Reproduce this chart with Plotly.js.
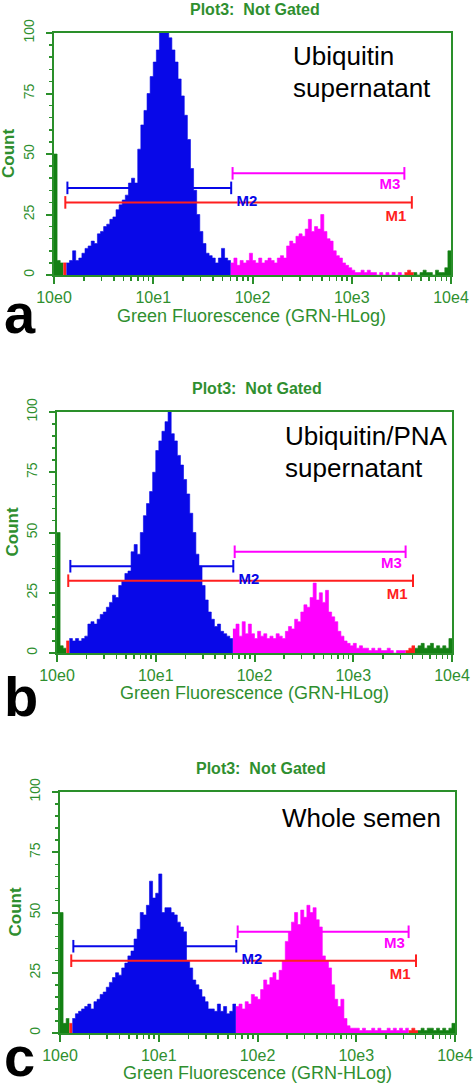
<!DOCTYPE html>
<html>
<head>
<meta charset="utf-8">
<script src="https://cdn.plot.ly/plotly-3.0.1.min.js"></script>
<style>html,body{margin:0;padding:0;background:#fff;}#chart{width:474px;height:1090px;}</style>
</head>
<body>
<div id="chart"></div>
<script>
// ---------------- DATA ----------------
// Histogram channels: 32 log-spaced channels per decade over 10^0 .. 10^4
const channelsPerDecade = 32;
const channelCount = 128;

// Counts per channel, panel a (Ubiquitin supernatant)
const countsA = [
  50, 6, 5, 5,
  5, 6, 10, 6, 7, 9, 11, 12, 14, 13, 17, 18, 20, 21, 23, 24, 27, 29, 31, 33, 38, 40, 38, 52, 62, 68,
  75, 82, 88, 93, 100, 100, 100, 98, 93, 88, 81, 74, 66, 56, 44, 35, 25, 18, 13, 9, 8, 7, 5, 7, 11, 7, 6,
  5, 7, 4, 6, 5, 6, 9, 6, 5, 7, 5, 6, 7, 6, 5, 7, 8, 7, 12, 14, 13, 16, 17, 16, 19, 23, 18, 20, 19, 25,
  18, 15, 14, 10, 8, 7, 5, 4, 3, 2, 1, 1, 2, 1, 2, 1, 1, 0, 1, 0, 1, 0, 1, 0, 1, 0,
  1, 2, 1,
  1, 0, 1, 2, 1, 1, 0, 2, 1, 1, 3, 10
];
// Panel b (Ubiquitin/PNA supernatant)
const countsB = [
  50, 3, 2, 5,
  6, 5, 6, 5, 6, 7, 12, 13, 12, 14, 16, 17, 19, 21, 24, 23, 28, 30, 33, 34, 42, 45, 41, 50, 57, 62,
  67, 75, 84, 88, 92, 96, 100, 91, 88, 82, 78, 72, 66, 58, 50, 41, 36, 28, 22, 17, 14, 11, 12, 9, 8, 7, 6,
  10, 12, 7, 13, 8, 12, 8, 6, 9, 7, 8, 6, 7, 6, 8, 7, 6, 9, 11, 10, 14, 13, 17, 20, 19, 23, 29, 22, 25, 21,
  26, 17, 15, 13, 9, 7, 5, 4, 3, 4, 2, 3, 2, 2, 1, 2, 1, 2, 1, 1, 2, 1, 0, 1, 1, 1,
  1, 2, 3,
  2, 3, 4, 2, 3, 4, 2, 3, 2, 3, 2, 6
];
// Panel c (Whole semen)
const countsC = [
  50, 4, 6, 4,
  6, 8, 9, 10, 11, 12, 10, 13, 14, 16, 17, 19, 21, 23, 25, 24, 27, 29, 32, 34, 39, 43, 50, 49, 53, 63,
  56, 58, 66, 50, 52, 52, 50, 49, 46, 44, 42, 30, 27, 22, 20, 18, 15, 13, 10, 10, 9, 12, 9, 11, 8, 9, 12,
  11, 12, 10, 13, 12, 16, 15, 14, 18, 22, 20, 23, 25, 22, 26, 30, 38, 42, 46, 50, 45, 51, 48, 53, 50, 52,
  47, 44, 32, 30, 27, 20, 14, 11, 14, 6, 3, 2, 2, 2, 1, 2, 1, 1, 2, 1, 2, 1, 1, 2, 1, 2, 1, 2, 1, 2,
  1, 2, 1,
  1, 2, 1, 2, 2, 1, 2, 1, 2, 1, 2, 4
];

// Channel index where each colour region starts (none | M1 only | M2 | M3 | M1 only | none)
const regionStarts = [0, 3, 4, 57, 113, 116];

// Marker gates
const gateNames  = ['M1', 'M2', 'M3'];
const gateLow    = [1.30, 1.365, 63];
const gateHigh   = [4030, 61, 3390];
const gateLevel  = [30, 36, 42];
const gateLabelX = [2790, 88, 2430];
const gateLabelY = [24, 30, 37];

// Axis ticks
const xTickVals = [1, 10, 100, 1000, 10000];
const xTickText = ['10e0', '10e1', '10e2', '10e3', '10e4'];
const yTickVals = [0, 25, 50, 75, 100];

const panelLabels = ['a', 'b', 'c'];
const sampleNames = [['Ubiquitin', 'supernatant'], ['Ubiquitin/PNA', 'supernatant'], ['Whole semen']];
const plotTitle = 'Plot3:\u00a0 Not Gated';
const xTitle = 'Green Fluorescence (GRN-HLog)';
const yTitle = 'Count';

// ---------------- STYLE ----------------
const W = 474, H = 1090;
const FONT = '"Liberation Sans", Arial, sans-serif';
const AXIS_GREEN = '#2a8f2a';
const TEXT_GREEN = '#2f8f2f';
const HIST_GREEN = '#138013';
const BLUE = '#0808e8';
const MAGENTA = '#ff00ff';
const RED = '#ff1f1f';
const regionColors = [HIST_GREEN, RED, BLUE, MAGENTA, RED, HIST_GREEN];
const gateColors = [RED, BLUE, MAGENTA];

// pixel boxes of the three plot areas [left, right, top, bottom]
const boxes = [[54, 451, 33, 275], [57, 452, 412, 653], [60, 455, 792, 1033]];
const titleY = [10, 388, 768];
const titleX = [255, 257, 261];
const xTitleY = [316, 693, 1073];
const xTitleX = [252, 254, 257];
const letterMidY = [314, 696, 1056];
const sampleLeft = [293, 285, 282];
const sampleMidY = [[56, 88], [436, 468], [818]];

const px = v => v / W;
const py = v => 1 - v / H;

const edges = [];
for (let k = 0; k <= channelCount; k++) edges.push(Math.pow(10, k / channelsPerDecade));

const minorVals = [];
for (let d = 0; d < 4; d++) for (let m = 2; m <= 9; m++) minorVals.push(m * Math.pow(10, d));

const allCounts = [countsA, countsB, countsC];
const traces = [];
const layout = {
  width: W, height: H,
  margin: {l: 0, r: 0, t: 0, b: 0},
  paper_bgcolor: '#fff', plot_bgcolor: '#fff',
  showlegend: false,
  font: {family: FONT, color: TEXT_GREEN},
  annotations: []
};

allCounts.forEach((counts, p) => {
  const sfx = p === 0 ? '' : String(p + 1);
  const xa = 'x' + sfx, ya = 'y' + sfx;
  const [l, r, t, b] = boxes[p];

  // histogram regions
  for (let g = 0; g < regionStarts.length; g++) {
    const s = regionStarts[g];
    const e = g + 1 < regionStarts.length ? regionStarts[g + 1] : channelCount;
    const xs = edges.slice(s, e + 1);
    const ys = counts.slice(s, e);
    ys.push(counts[e - 1]);
    traces.push({
      type: 'scatter', mode: 'lines', x: xs, y: ys,
      line: {shape: 'hv', width: 0.6, color: regionColors[g]},
      fill: 'tozeroy', fillcolor: regionColors[g],
      xaxis: xa, yaxis: ya, hoverinfo: 'skip', cliponaxis: true
    });
  }
  // gate markers
  gateNames.forEach((nm, i) => {
    traces.push({
      type: 'scatter', mode: 'lines+markers',
      x: [gateLow[i], gateHigh[i]], y: [gateLevel[i], gateLevel[i]],
      line: {color: gateColors[i], width: 2},
      marker: {symbol: 'line-ns-open', size: 9, color: gateColors[i], line: {width: 2, color: gateColors[i]}},
      xaxis: xa, yaxis: ya, hoverinfo: 'skip', cliponaxis: false
    });
    traces.push({
      type: 'scatter', mode: 'text',
      x: [gateLabelX[i]], y: [gateLabelY[i]], text: [nm],
      textfont: {family: FONT, size: 15, color: gateColors[i], weight: 'bold'},
      textposition: 'middle center',
      xaxis: xa, yaxis: ya, hoverinfo: 'skip', cliponaxis: false
    });
  });

  layout['xaxis' + sfx] = {
    type: 'log', range: [0, 4], domain: [px(l), px(r)], anchor: ya,
    tickmode: 'array', tickvals: xTickVals, ticktext: xTickText,
    ticks: 'outside', ticklen: 7, tickwidth: 2, tickcolor: AXIS_GREEN,
    minor: {tickmode: 'array', tickvals: minorVals, ticks: 'outside', ticklen: 4, tickwidth: 1.5, tickcolor: AXIS_GREEN, showgrid: false},
    tickfont: {family: FONT, size: 16, color: TEXT_GREEN},
    showline: true, linecolor: AXIS_GREEN, linewidth: 2, mirror: true,
    showgrid: false, zeroline: false, fixedrange: true
  };
  layout['yaxis' + sfx] = {
    range: [0, 100], domain: [py(b), py(t)], anchor: xa,
    tickmode: 'array', tickvals: yTickVals, tickangle: -90,
    ticks: 'outside', ticklen: 6, tickwidth: 2, tickcolor: AXIS_GREEN,
    minor: {dtick: 5, ticks: 'outside', ticklen: 3, tickwidth: 1.5, tickcolor: AXIS_GREEN, showgrid: false},
    tickfont: {family: FONT, size: 14, color: TEXT_GREEN},
    ticklabelstandoff: 6,
    showline: true, linecolor: AXIS_GREEN, linewidth: 2, mirror: true,
    showgrid: false, zeroline: false, fixedrange: true
  };

  const A = layout.annotations;
  A.push({xref: 'paper', yref: 'paper', x: px(titleX[p]), y: py(titleY[p]), xanchor: 'center', yanchor: 'middle',
          text: plotTitle, showarrow: false, font: {family: FONT, size: 16, color: TEXT_GREEN, weight: 'bold'}});
  A.push({xref: 'paper', yref: 'paper', x: px(xTitleX[p]), y: py(xTitleY[p]), xanchor: 'center', yanchor: 'middle',
          text: xTitle, showarrow: false, font: {family: FONT, size: 18, color: TEXT_GREEN}});
  A.push({xref: 'paper', yref: 'paper', x: px(l - 45), y: py((t + b) / 2), xanchor: 'center', yanchor: 'middle',
          text: yTitle, textangle: -90, showarrow: false, font: {family: FONT, size: 17, color: TEXT_GREEN, weight: 'bold'}});
  A.push({xref: 'paper', yref: 'paper', x: px(2), y: py(letterMidY[p]), xanchor: 'left', yanchor: 'middle',
          text: panelLabels[p], showarrow: false, font: {family: FONT, size: 56, color: '#000', weight: 'bold'}});
  sampleNames[p].forEach((line, j) => {
    A.push({xref: 'paper', yref: 'paper', x: px(sampleLeft[p] - 2), y: py(sampleMidY[p][j]), xanchor: 'left', yanchor: 'middle',
            text: line, showarrow: false, font: {family: FONT, size: 26, color: '#000'}});
  });
});

Plotly.newPlot('chart', traces, layout, {staticPlot: true, displayModeBar: false});
</script>
</body>
</html>
